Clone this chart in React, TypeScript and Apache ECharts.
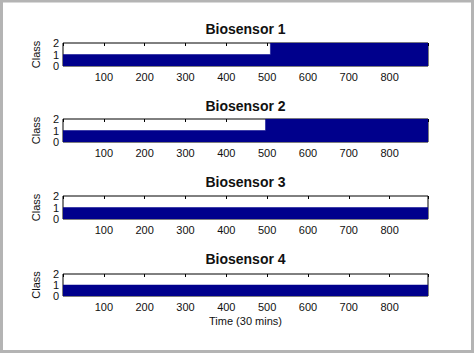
import React, { useEffect, useRef } from "react";
import * as echarts from "echarts";

const sensorNames = ["Biosensor 1", "Biosensor 2", "Biosensor 3", "Biosensor 4"];
// change points (time) and the class held from each point onward
const changeTimes1 = [0, 508, 894];
const classes1 = [1, 2, 2];
const changeTimes2 = [0, 496, 894];
const classes2 = [1, 2, 2];
const changeTimes3 = [0, 894];
const classes3 = [1, 1];
const changeTimes4 = [0, 894];
const classes4 = [1, 1];
const timeMin = 0;
const timeMax = 894;
const timeInterval = 100;
const classMin = 0;
const classMax = 2;
const xAxisTitle = "Time (30 mins)";
const yAxisTitle = "Class";

const allTimes = [changeTimes1, changeTimes2, changeTimes3, changeTimes4];
const allClasses = [classes1, classes2, classes3, classes4];

const FONT = "'Liberation Sans', Arial, sans-serif";
const NAVY = "#00008c";

export default function App() {
  const ref = useRef<HTMLDivElement>(null);
  useEffect(() => {
    if (!ref.current) return;
    const chart = echarts.init(ref.current, undefined, { renderer: "svg" });
    const tops = [43, 119, 196, 274];
    const heights = [23, 23, 23, 22];
    const titleTops = [22, 99, 175, 252];
    const left = 63;
    const width = 365;

    const grid = tops.map((t, i) => ({
      left,
      top: t,
      width,
      height: heights[i],
      show: true,
      borderColor: "#000",
      borderWidth: 1,
      backgroundColor: "#fff",
    }));

    const xAxis: any[] = [];
    const yAxis: any[] = [];
    const series: any[] = [];
    tops.forEach((_, i) => {
      xAxis.push({
        type: "value",
        gridIndex: i,
        position: "bottom",
        min: timeMin,
        max: timeMax,
        interval: timeInterval,
        axisLine: { show: false },
        axisTick: { show: false },
        splitLine: { show: false },
        axisLabel: {
          color: "#111",
          fontSize: 11,
          fontFamily: FONT,
          margin: 5,
          formatter: (v: number) => (v > 0 && v % 100 === 0 ? String(v) : ""),
        },
        name: i === 3 ? xAxisTitle : "",
        nameLocation: "middle",
        nameGap: 19,
        nameTextStyle: { color: "#111", fontSize: 11, fontFamily: FONT, verticalAlign: "top" },
      });
      xAxis.push({
        type: "value",
        gridIndex: i,
        position: "top",
        min: timeMin,
        max: timeMax,
        interval: timeInterval,
        axisLine: { show: false },
        axisTick: { show: true, inside: true, length: 3, lineStyle: { color: "#000" } },
        splitLine: { show: false },
        axisLabel: { show: false },
      });
      yAxis.push({
        type: "value",
        gridIndex: i,
        min: classMin,
        max: classMax,
        interval: 1,
        axisLine: { show: false },
        axisTick: { show: false },
        splitLine: { show: false },
        axisLabel: { color: "#111", fontSize: 11, fontFamily: FONT, margin: 4 },
        name: yAxisTitle,
        nameLocation: "middle",
        nameRotate: 90,
        nameGap: 16,
        nameTextStyle: { color: "#111", fontSize: 11, fontFamily: FONT },
      });
      series.push({
        type: "line",
        xAxisIndex: i * 2,
        yAxisIndex: i,
        step: "end",
        symbol: "none",
        lineStyle: { width: 0.5, color: NAVY },
        areaStyle: { color: NAVY, opacity: 1, origin: "start" },
        data: allTimes[i].map((t, k) => [t, allClasses[i][k]]),
      });
    });

    const title = sensorNames.map((n, i) => ({
      text: n,
      left: left + width / 2,
      top: titleTops[i],
      padding: 0,
      textAlign: "center",
      textStyle: { fontSize: 14, fontWeight: "bold", color: "#111", fontFamily: FONT },
    }));

    chart.setOption({
      animation: false,
      backgroundColor: "#fff",
      title,
      grid,
      xAxis,
      yAxis,
      series,
      graphic: [
        {
          type: "rect",
          shape: { x: 1.5, y: 1, width: 471, height: 350.5 },
          style: { fill: "none", stroke: "#b4b4b4", lineWidth: 3 },
          silent: true,
        },
      ],
    });
    return () => chart.dispose();
  }, []);
  return (
    <div
      ref={ref}
      style={{ position: "absolute", left: 0, top: 0, width: 474, height: 353 }}
    />
  );
}
